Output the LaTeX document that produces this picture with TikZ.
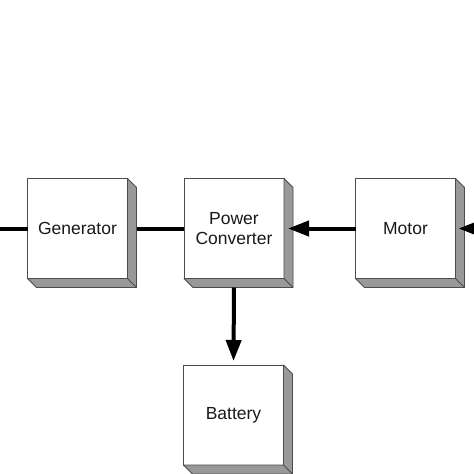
\documentclass[tikz,border=0pt]{standalone}
\usepackage{fontspec}
\setmainfont{Liberation Sans}
\usetikzlibrary{arrows.meta}
\begin{document}
\begin{tikzpicture}[x=1pt,y=-1pt,
  blockbox/.style={draw=black!70, line width=0.8pt, fill=white, minimum width=100pt, minimum height=100pt,
    outer sep=0pt, inner sep=0pt, align=center, text=black!90, font=\fontsize{17.5}{20.5}\selectfont},
  sideface/.style={fill=black!40, draw=black!70, line width=0.8pt, line join=round},
  wire/.style={line width=4pt, black},
  flow/.style={wire, -{Triangle[length=21pt,width=15pt]}}
]
\useasboundingbox (0,0) rectangle (474,474);
\fill[white] (0,0) rectangle (474,474);
\node[blockbox] (gen) at (77.5,228.5) {Generator};
\node[blockbox] (pc)  at (234,228.5) {Power\\Converter};
\node[blockbox] (mot) at (405.5,228.5) {Motor};
\node[blockbox] (bat) at (233.5,415) {Battery};
\foreach \n in {gen,pc,mot,bat} {
  \filldraw[sideface] (\n.north east) -- ([shift={(9,9)}]\n.north east) -- ([shift={(9,9)}]\n.south east)
     -- ([shift={(9,9)}]\n.south west) -- (\n.south west) -- (\n.south east) -- cycle;
  \draw[sideface, fill=none] (\n.south east) -- ([shift={(9,9)}]\n.south east);
}
\coordinate (lft) at (0,228.5);
\coordinate (rgt) at (474,228.5);
\draw[wire] (lft) -- (gen.west);
\draw[wire] ([shift={(9,0)}]gen.east) -- (pc.west);
\draw[flow] (mot.west) -- ([shift={(4,0)}]pc.east);
\draw[flow] (rgt) -- ([shift={(3,0)}]mot.east);
\draw[flow] ([shift={(0,9)}]pc.south) -- ([shift={(0,-4)}]bat.north);
\end{tikzpicture}
\end{document}
